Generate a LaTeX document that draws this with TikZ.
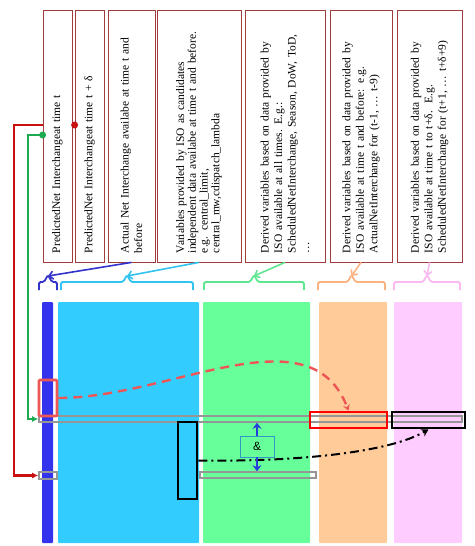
\documentclass[tikz,border=0pt]{standalone}
\usepackage{fontspec}
\setmainfont{Liberation Serif}
\newfontfamily\ampfont{Liberation Sans}
\usepackage{xcolor}
\usetikzlibrary{positioning,arrows.meta,calc}

\definecolor{boxred}{RGB}{160,60,60}
\definecolor{colblue}{RGB}{51,51,238}
\definecolor{colcyan}{RGB}{51,204,255}
\definecolor{colgreen}{RGB}{102,255,153}
\definecolor{colorange}{RGB}{255,204,153}
\definecolor{colpink}{RGB}{255,204,255}
\definecolor{braceblue}{RGB}{51,51,204}
\definecolor{bracecyan}{RGB}{51,195,240}
\definecolor{bracegreen}{RGB}{95,230,145}
\definecolor{braceorange}{RGB}{250,180,130}
\definecolor{bracepink}{RGB}{250,185,240}
\definecolor{linkred}{RGB}{200,16,16}
\definecolor{linkgreen}{RGB}{30,170,80}
\definecolor{dashred}{RGB}{238,85,85}
\definecolor{slotgrey}{RGB}{150,150,150}
\definecolor{ampblue}{RGB}{40,60,220}
\definecolor{ampframe}{RGB}{50,150,200}

\begin{document}
\begin{tikzpicture}[
			x=1pt, y=-1pt,
			varbox/.style={rectangle, draw=boxred, line width=0.8pt, fill=white, rotate=90, minimum width=252pt, inner xsep=9pt, inner ysep=0pt, text width=234pt, align=left, font=\fontsize{11.5}{13.5}\selectfont},
			grpbrace/.style={line width=1.8pt, rounded corners=1.5pt},
			grparrow/.style={-{Straight Barb[length=4pt, width=8pt]}, line width=1.6pt},
			slot/.style={rectangle, draw=slotgrey, line width=1.6pt, inner sep=0pt},
			frame/.style={rectangle, line width=2.6pt, inner sep=0pt}
			]
			\useasboundingbox (0,0) rectangle (474,546);
			
			% Columns
			\fill[colblue, rounded corners=1pt] (42,302) rectangle (53,543);
			\fill[colcyan, rounded corners=1pt] (58,302) rectangle (199,543);
			\fill[colgreen, rounded corners=1pt] (203,302) rectangle (310,543);
			\fill[colorange, rounded corners=1pt] (319,302) rectangle (387,543);
			\fill[colpink, rounded corners=1pt] (394,302) rectangle (462,543);
			
			% Braces over the columns
			\foreach \xa/\xb/\col/\nm in {39/57/braceblue/blue, 61/193/bracecyan/cyan, 204/304/bracegreen/green, 318/385/braceorange/orange, 394/460/bracepink/pink} {
				\draw[grpbrace, \col] (\xa,290) -- (\xa,282) -- ({(\xa+\xb)/2-4},282) -- ({(\xa+\xb)/2},275) -- ({(\xa+\xb)/2+4},282) -- (\xb,282) -- (\xb,290);
				\coordinate (tip\nm) at ({(\xa+\xb)/2},276);
			}
			
			% Slots
			\node[slot, minimum width=423pt, minimum height=6pt] (longslot) at (250.5,419) {};
			\node[slot, minimum width=18pt, minimum height=7pt] (nowslot) at (48,475.5) {};
			\node[slot, minimum width=116pt, minimum height=6pt] (lowslot) at (258,475) {};
			
			% Frames
			\node[frame, draw=dashred, rounded corners=1pt, minimum width=18pt, minimum height=36pt] (redmark) at (48,398) {};
			\node[frame, draw=red, minimum width=77pt, minimum height=16pt] (redwin) at (348.5,420) {};
			\node[frame, draw=black, minimum width=73pt, minimum height=16pt] (blackwin) at (428.5,420) {};
			\node[frame, draw=black, minimum width=19pt, minimum height=77pt] (blackbar) at (187.5,460.5) {};
			\node[rectangle, draw=ampframe, line width=0.9pt, minimum width=34pt, minimum height=21pt, font=\ampfont\fontsize{12}{13}\selectfont] (amp) at (257,446.5) {\&};
			
			% Links to the target slots
			\coordinate (redlevel) at (0,125);
			\coordinate (greenlevel) at (0,135);
			\draw[linkred, line width=2.4pt, -{Latex[length=6pt, width=6pt]}] (89.5,125) -- (14,125) |- (nowslot.west);
			
			% Node 1: Predicted now
			\node[varbox, minimum height=29pt] (prednow) at (57.5,136) {PredictedNet Interchangeat time t};
			
			% Node 2: Predicted ahead
			\node[varbox, minimum height=29pt] (predahead) at (89.5,136) {PredictedNet Interchangeat time t + δ};
			
			% Node 3: Actual
			\node[varbox, minimum height=47pt] (actual) at (131.5,136) {Actual Net Interchange availabe at time t and\\ before};
			
			% Node 4: ISO candidates
			\node[varbox, minimum height=84pt, font=\fontsize{11.5}{11.8}\selectfont] (isovars) at (199,136) {Variables provided by ISO as candidates\\ independent data availabe at time t and before.\\ e.g. central\_limit,\\ central\_mw,cdispatch\_lambda};
			
			% Node 5: Derived at all times
			\node[varbox, minimum height=80pt] (alltimes) at (285,136) {Derived variables based on data provided by\\ ISO available at all times. E.g.:\\ ScheduledNetInterchange, Season, DoW, ToD,\\ \dots};
			
			% Node 6: Derived up to t
			\node[varbox, minimum height=62pt] (pastvars) at (361,136) {Derived variables based on data provided by\\ ISO available at time t and before: e.g.\\ ActualNetInterchange for (t-1, \dots\ t-9)};
			
			% Node 7: Derived up to t + delta
			\node[varbox, minimum height=65pt] (futvars) at (429.5,136) {Derived variables based on data provided by\\ ISO available at time t to t+δ.\ \ E.g.\\ ScheduledNetInterchange for (t+1, \dots\ t+δ+9)};
			
			\coordinate (tapred) at (predahead.north |- redlevel);
			\coordinate (tapgreen) at (prednow.north |- greenlevel);
			\draw[linkgreen, line width=2pt, -{Latex[length=6pt, width=6pt]}] (tapgreen) -- ++(-15,0) |- (longslot.west);
			\fill[linkred] (tapred) circle (3.5pt);
			\fill[linkgreen] (tapgreen) circle (3.5pt);
			
			% Arrows
			\draw[grparrow, braceblue] (actual.west) -- (tipblue);
			\draw[grparrow, bracecyan] (isovars.west) -- (tipcyan);
			\draw[grparrow, bracegreen] (alltimes.west) -- (tipgreen);
			\draw[grparrow, braceorange] (pastvars.west) -- (tiporange);
			\draw[grparrow, bracepink] (futvars.west) -- (tippink);
			
			\draw[dashred, line width=2.4pt, dash pattern=on 9pt off 6pt, -{Stealth[length=6pt, width=7pt]}] (redmark.east) .. controls (170,398) and (310,310) .. (redwin.north);
			\draw[black, line width=2pt, dash pattern=on 9pt off 4pt on 2pt off 4pt, -{Stealth[length=7pt, width=8pt]}] (blackbar.east) .. controls (300,462) and (390,452) .. (blackwin.south);
			\draw[ampblue, line width=2.4pt, -{Stealth[length=6pt, width=9pt]}] (amp.north) -- (amp.north |- longslot.south);
			\draw[ampblue, line width=2.4pt, -{Stealth[length=6pt, width=9pt]}] (amp.south) -- (amp.south |- lowslot.north);
			
		\end{tikzpicture}
\end{document}
